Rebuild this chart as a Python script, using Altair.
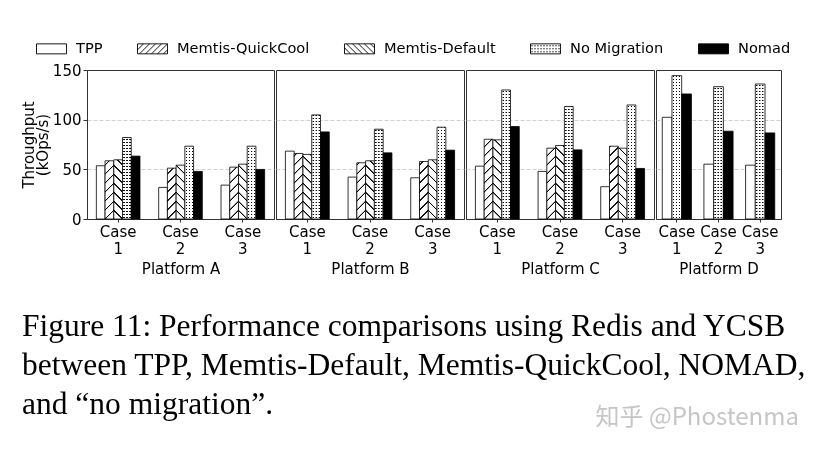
import altair as alt
import pandas as pd

# ---------------- data ----------------
platforms = ["Platform A", "Platform B", "Platform C", "Platform D"]
cases = ["Case 1", "Case 2", "Case 3"]
methods = ["TPP", "Memtis-QuickCool", "Memtis-Default", "No Migration", "Nomad"]
methods_d = ["TPP", "No Migration", "Nomad"]

tpp = [[53.6, 31.8, 34.1], [68.3, 42.2, 41.5], [53.2, 47.9, 32.5], [102.4, 55.2, 54.2]]
quickcool = [[58.6, 51.2, 52.2], [66.0, 56.6, 57.9], [80.3, 71.3, 73.3]]
memtis_default = [[59.6, 54.2, 55.2], [65.0, 58.6, 59.6], [79.7, 74.0, 71.3]]
no_migration = [[82.0, 73.3, 73.3], [104.8, 90.4, 92.4], [129.9, 113.2, 114.8], [144.3, 133.2, 135.9]]
nomad = [[63.3, 47.9, 49.9], [87.7, 66.6, 69.3], [93.1, 69.6, 50.9], [125.9, 88.4, 86.7]]

y_ticks = [0, 50, 100, 150]
y_title = ["Throughput", "(kOps/s)"]
caption_lines = [
    "Figure 11: Performance comparisons using Redis and YCSB",
    "between TPP, Memtis-Default, Memtis-QuickCool, NOMAD,",
    "and \u201cno migration\u201d.",
]
watermark = "知乎 @Phostenma"

rows = []
for pi, p in enumerate(platforms):
    for ci, c in enumerate(cases):
        rows.append((p, c, "TPP", tpp[pi][ci]))
        if pi < 3:
            rows.append((p, c, "Memtis-QuickCool", quickcool[pi][ci]))
            rows.append((p, c, "Memtis-Default", memtis_default[pi][ci]))
        rows.append((p, c, "No Migration", no_migration[pi][ci]))
        rows.append((p, c, "Nomad", nomad[pi][ci]))
df = pd.DataFrame(rows, columns=["Platform", "Case", "Method", "Value"])

# ---------------- style ----------------
FONT = "DejaVu Sans"
FS = 15
PANEL_H = 149
PANEL_W = [187, 188, 188, 125]
PAD_IN, PAD_OUT = 0.3, 0.15
SW = 0.8
HATCH_P, HATCH_HALF, HATCH_SOFT = 9.0, 0.45, 0.55
DOT_P, DOT_HALF, DOT_SOFT = 3.0, 0.5, 0.35
FRAME = "#333333"
GRID_OPACITY = {"condition": {"test": "datum.value <= 0 || datum.value >= 150", "value": 0},
                "value": 1}


def gray(f):
    v = int(round(255 * (1 - f)))
    return "#%02x%02x%02x" % (v, v, v)


def profile_stops(L, centers, half, soft):
    pts = {0.0, float(L)}
    for c in centers:
        for d in (-half - soft, -half, half, half + soft):
            s = c + d
            if 0 < s < L:
                pts.add(s)
    out = []
    for s in sorted(pts):
        f = 0.0
        for c in centers:
            a = abs(s - c)
            if a <= half:
                g = 1.0
            elif a <= half + soft:
                g = 1 - (a - half) / soft
            else:
                g = 0.0
            f = max(f, g)
        out.append(alt.GradientStop(offset=round(s / L, 5), color=gray(f)))
    return out


def hatch_fill(w, h, forward):
    L = w + h
    k = L / (w * w + h * h)
    n = int(L / HATCH_P) + 3
    if forward:
        centers = [h - m * HATCH_P for m in range(-n, n)]
        x1, y1, x2, y2 = 0, 0, w * k, h * k
    else:
        centers = [w + m * HATCH_P for m in range(-n, n)]
        x1, y1, x2, y2 = 0, 1, w * k, 1 - h * k
    centers = [c for c in centers if -2 < c < L + 2]
    return alt.LinearGradient(gradient="linear",
                              stops=profile_stops(L, centers, HATCH_HALF, HATCH_SOFT),
                              x1=x1, y1=y1, x2=x2, y2=y2)


def vstripes(w):
    centers = [DOT_P / 2 + i * DOT_P for i in range(int(w / DOT_P) + 2)]
    return alt.LinearGradient(gradient="linear",
                              stops=profile_stops(w, centers, DOT_HALF, DOT_SOFT),
                              x1=0, y1=0, x2=1, y2=0)


def hstripes(h):
    centers = [h - DOT_P / 2 - i * DOT_P for i in range(int(h / DOT_P) + 2)]
    centers = [c for c in centers if c > -2]
    return alt.LinearGradient(gradient="linear",
                              stops=profile_stops(h, centers, DOT_HALF, DOT_SOFT),
                              x1=0, y1=0, x2=0, y2=1)


# legend swatch paths (normalized [-1,1] coordinates, 30x10 px swatch)
RY = 1 / 3
RECT = "M-1,%.4fL1,%.4fL1,%.4fL-1,%.4fZ" % (-RY, -RY, RY, RY)


def hatch_path(forward):
    segs = []
    a = -1 - 2 * RY
    while a < 1:
        t0 = max(0.0, (-1 - a) / (2 * RY))
        t1 = min(1.0, (1 - a) / (2 * RY))
        if t0 < t1:
            if forward:
                p0 = (a + t0 * 2 * RY, RY - t0 * 2 * RY)
                p1 = (a + t1 * 2 * RY, RY - t1 * 2 * RY)
            else:
                p0 = (a + t0 * 2 * RY, -RY + t0 * 2 * RY)
                p1 = (a + t1 * 2 * RY, -RY + t1 * 2 * RY)
            segs.append("M%.4f,%.4fL%.4f,%.4f" % (p0[0], p0[1], p1[0], p1[1]))
        a += 0.4
    return RECT + "".join(segs)


def dots_path():
    segs = []
    d = 0.03
    for i in range(10):
        x = -0.9 + 0.2 * i
        for y in (-0.2, 0.0, 0.2):
            segs.append("M%.4f,%.4fh%.3fv%.3fh%.3fZ" % (x - d / 2, y - d / 2, d, d, -d))
    return RECT + "".join(segs)


legend_shapes = [RECT, hatch_path(True), hatch_path(False), dots_path(), RECT]
legend_fills = ["white", "white", "white", "white", "black"]
legend_strokes = ["black"] * 5

legend_def = alt.Legend(
    orient="none", legendX=-51, legendY=-37, direction="horizontal", columns=5,
    title=None, symbolSize=900, symbolStrokeWidth=0.9, symbolStrokeColor="black",
    symbolOpacity=1, labelFont=FONT, labelFontSize=14.6, labelColor="black",
    labelOffset=9, columnPadding=32,
)


def y_axis(first):
    if first:
        return alt.Axis(values=y_ticks, title=y_title, titleFont=FONT, titleFontSize=FS,
                        titleFontWeight="normal", titleColor="black", titleLineHeight=14,
                        titlePadding=2, labelFont=FONT, labelFontSize=FS, labelColor="black",
                        labelPadding=2, tickSize=4, tickColor=FRAME, domainColor=FRAME,
                        grid=True, gridColor="#c4c4c4", gridDash=[4, 2], gridWidth=0.8,
                        gridOpacity=GRID_OPACITY)
    return alt.Axis(values=y_ticks, title=None, labels=False, ticks=False, domain=False,
                    minExtent=0, maxExtent=0, offset=0,
                    grid=True, gridColor="#c4c4c4", gridDash=[4, 2], gridWidth=0.8,
                    gridOpacity=GRID_OPACITY)


def panel(pi):
    p = platforms[pi]
    meths = methods if pi < 3 else methods_d
    W = PANEL_W[pi]
    sub = df[df.Platform == p]
    bar_w = (W / (3 - PAD_IN + 2 * PAD_OUT)) * (1 - PAD_IN) / len(meths)

    enc = dict(
        x=alt.X("Case:N", sort=cases,
                scale=alt.Scale(domain=cases, paddingInner=PAD_IN, paddingOuter=PAD_OUT),
                axis=alt.Axis(title=p, labelExpr="split(datum.label, ' ')", labelAngle=0,
                              labelFont=FONT, labelFontSize=FS, labelLineHeight=17,
                              labelColor="black", labelPadding=2, tickSize=3,
                              tickColor=FRAME, domainColor=FRAME, titleFont=FONT,
                              titleFontSize=FS, titleFontWeight="normal",
                              titleColor="black", titlePadding=5, grid=False)),
        xOffset=alt.XOffset("Method:N", sort=meths, scale=alt.Scale(domain=meths)),
        y=alt.Y("Value:Q", scale=alt.Scale(domain=[0, 150]), axis=y_axis(pi == 0)),
    )
    base = alt.Chart().encode(**enc)

    layers = [base.transform_filter(alt.datum.Method == "TPP")
              .mark_bar(fill="white", stroke="black", strokeWidth=SW)]
    for ci, c in enumerate(cases):
        if pi < 3:
            for m, vals, fwd in (("Memtis-QuickCool", quickcool, True),
                                 ("Memtis-Default", memtis_default, False)):
                h = vals[pi][ci] / 150 * PANEL_H
                layers.append(
                    base.transform_filter((alt.datum.Case == c) & (alt.datum.Method == m))
                    .mark_bar(fill=hatch_fill(bar_w, h, fwd), stroke="black", strokeWidth=SW))
        h = no_migration[pi][ci] / 150 * PANEL_H
        flt = (alt.datum.Case == c) & (alt.datum.Method == "No Migration")
        layers.append(base.transform_filter(flt).mark_bar(fill=vstripes(bar_w)))
        layers.append(base.transform_filter(flt).mark_bar(fill=hstripes(h), blend="lighten"))
        layers.append(base.transform_filter(flt)
                      .mark_bar(fill="transparent", stroke="black", strokeWidth=SW))
    layers.append(base.transform_filter(alt.datum.Method == "Nomad")
                  .mark_bar(fill="black", stroke="black", strokeWidth=SW))
    if pi == 0:
        layers.append(
            base.transform_filter("datum.Value < 0")
            .mark_point(strokeWidth=0.9)
            .encode(shape=alt.Shape("Method:N", sort=methods,
                                    scale=alt.Scale(domain=methods, range=legend_shapes),
                                    legend=legend_def),
                    fill=alt.Fill("Method:N", sort=methods,
                                  scale=alt.Scale(domain=methods, range=legend_fills),
                                  legend=legend_def),
                    stroke=alt.Stroke("Method:N", sort=methods,
                                      scale=alt.Scale(domain=methods, range=legend_strokes),
                                      legend=legend_def)))
    return alt.layer(*layers, data=sub).properties(
        width=W, height=PANEL_H,
        view=alt.ViewBackground(stroke=FRAME, strokeWidth=1))


row = alt.hconcat(*[panel(i) for i in range(4)], spacing=0).resolve_scale(
    x="independent", xOffset="independent", y="independent")

cap_df = pd.DataFrame({"line": [0, 1, 2], "text": caption_lines})
wm_df = pd.DataFrame({"line": [2], "text": [watermark]})
ycap = alt.Y("line:O", axis=None, scale=alt.Scale(type="point", domain=[0, 1, 2], padding=0.5))
CAP_W = 712
caption = alt.layer(
    alt.Chart(cap_df).mark_text(align="left", baseline="middle", font="Liberation Serif",
                                fontSize=31.5, color="black")
    .encode(x=alt.value(-65), y=ycap, text="text:N"),
    alt.Chart(wm_df).mark_text(align="right", baseline="middle", font="Noto Sans CJK SC",
                               fontSize=24, color="#c6c6c6", dy=13)
    .encode(x=alt.value(CAP_W), y=ycap, text="text:N"),
).properties(width=CAP_W, height=117, view=alt.ViewBackground(stroke="transparent"))

chart = alt.vconcat(row, caption, spacing=29).properties(
    padding={"left": 12, "top": 25, "right": 4, "bottom": 4},
    background="white",
).configure(font=FONT)

chart.save("out.html", embed_options={"renderer": "svg", "actions": False})
